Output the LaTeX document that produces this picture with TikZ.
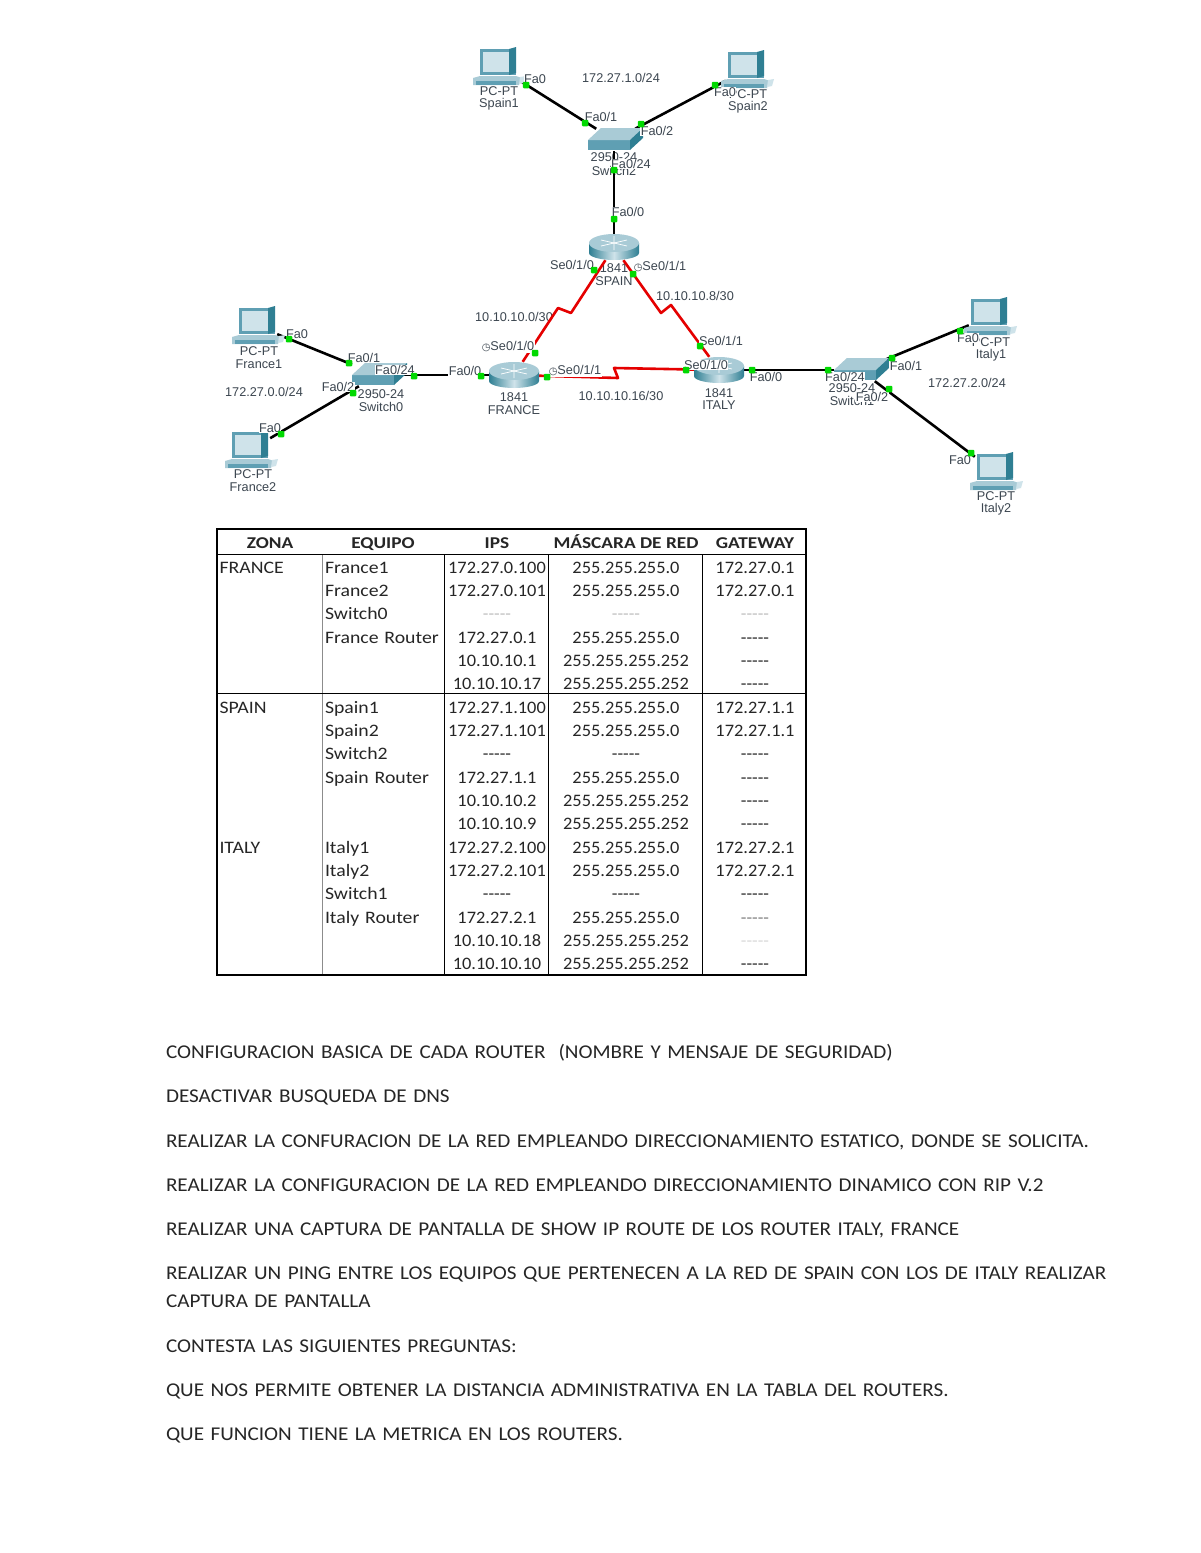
\documentclass[tikz,border=0pt]{standalone}
\usepackage{fontspec}
\setmainfont{Carlito}
\newfontfamily\netfont{Liberation Sans}
\newfontfamily\clockfont{DejaVu Sans}
\newfontfamily\numfont[FakeStretch=1.05]{Carlito}
\newfontfamily\namefont[FakeStretch=1.13]{Carlito}
\newfontfamily\headfont[FakeStretch=1.17]{Carlito}
\newfontfamily\bodyfont[FakeStretch=1.085,WordSpace=0.8]{Carlito}
\usepackage{xcolor}
\usetikzlibrary{positioning}

\definecolor{teallight}{HTML}{A9CBD6}
\definecolor{tealmid}{HTML}{5F9FB3}
\definecolor{tealdark}{HTML}{2F7F93}
\definecolor{screenblue}{HTML}{CFE3EA}
\definecolor{netgrey}{HTML}{3C4650}
\newcommand{\clockmark}{{\clockfont\fontsize{10}{10}\selectfont ◷}}
\newcommand{\nodash}{-{}-{}-{}-{}-}

\begin{document}
\begin{tikzpicture}[
    x=1pt, y=-1pt, on grid,
    pcbox/.style={rectangle, minimum width=40pt, minimum height=36pt, inner sep=0pt},
    swbox/.style={rectangle, minimum width=52pt, minimum height=22pt, inner sep=0pt},
    rtbox/.style={rectangle, minimum width=50pt, minimum height=26pt, inner sep=0pt},
    lan/.style={line width=2.6pt, black},
    serial/.style={line width=2.6pt, red!90!black, line join=round},
    portmark/.style={rectangle, fill=green!85!black, rounded corners=1pt, minimum size=6.5pt, inner sep=0pt},
    devlabel/.style={font=\netfont\fontsize{12.7}{13}\selectfont, text=netgrey, inner sep=0pt},
    portlabel/.style={devlabel, fill=white, inner sep=0.5pt},
    cell/.style={font=\numfont\fontsize{17.5}{18}\selectfont, text=black!85, inner sep=0pt, text height=14pt, text depth=2pt},
    headcell/.style={cell, font=\headfont\fontsize{16.5}{18}\selectfont\bfseries},
    leftcell/.style={cell, font=\namefont\fontsize{17.5}{18}\selectfont, align=left},
    faint/.style={cell, text=black!25},
    bodyline/.style={font=\bodyfont\fontsize{19.5}{20}\selectfont, text=black!85, inner sep=0pt, text width=960pt, align=left, text height=15pt, text depth=2pt},
    pcicon/.pic={
        \fill[teallight] (-25,11) -- (-18,9) -- (18,9) -- (24,11) -- (21,18) -- (-25,18) -- cycle;
        \fill[tealmid] (-18,-18) rectangle (18,8);
        \fill[tealdark] (11,-18) -- (18,-20) -- (18,6) -- (11,8) -- cycle;
        \fill[screenblue] (-15,-15) rectangle (11,5);
        \fill[tealmid] (-22,14) rectangle (18,18);
        \fill[screenblue] (22,10) -- (28,9) -- (26,16) -- (21,17) -- cycle;
    },
    swicon/.pic={
        \fill[tealmid] (-26,0) rectangle (16,10);
        \fill[teallight] (-26,0) -- (-13,-12) -- (29,-12) -- (16,0) -- cycle;
        \fill[tealdark] (16,0) -- (29,-12) -- (29,-2) -- (16,10) -- cycle;
    },
    rticon/.pic={
        \shade[left color=tealdark, right color=tealdark, middle color=screenblue] (-25,-4) -- (-25,6) arc[start angle=180, end angle=360, x radius=25, y radius=-7] -- (25,-4) -- cycle;
        \fill[teallight] (0,-4) ellipse[x radius=25, y radius=9];
        \draw[white, line width=0.7pt] (-13,-7) -- (13,-1) (-13,-1) -- (13,-7) (0,-11) -- (0,3);
    }
]
\useasboundingbox (0,0) rectangle (1200,1553);
\fill[white] (0,0) rectangle (1200,1553);

% Routers
\node[rtbox] (spainr) at (614,247) {};
\node[rtbox, below left=128pt and 100pt of spainr] (francer) {};
\node[rtbox, below right=123pt and 105pt of spainr] (italyr) {};

% Switches
\node[swbox, above=107pt of spainr] (switchs) {};
\node[swbox, left=136pt of francer] (switchf) {};
\node[swbox, right=141pt of italyr] (switchi) {};

% PCs
\node[pcbox, above left=73pt and 116pt of switchs] (spain1) {};
\node[pcbox, above right=70pt and 132pt of switchs] (spain2) {};
\node[pcbox, above left=49pt and 121pt of switchf] (france1) {};
\node[pcbox, below left=75pt and 128pt of switchf] (france2) {};
\node[pcbox, above right=53pt and 129pt of switchi] (italy1) {};
\node[pcbox, below right=102pt and 135pt of switchi] (italy2) {};

% Device labels
\node[devlabel, below right=24pt and 1pt of spain1] (spain1type) {PC-PT};
\node[devlabel, below=13pt of spain1type] (spain1name) {Spain1};
\node[devlabel, below right=24pt and 2pt of spain2] (spain2type) {PC-PT};
\node[devlabel, below=13pt of spain2type] (spain2name) {Spain2};
\node[devlabel, below right=25pt and 2pt of france1] (france1type) {PC-PT};
\node[devlabel, below=13pt of france1type] (france1name) {France1};
\node[devlabel, below right=24pt and 3pt of france2] (france2type) {PC-PT};
\node[devlabel, below=13pt of france2type] (france2name) {France2};
\node[devlabel, below right=25pt and 2pt of italy1] (italy1type) {PC-PT};
\node[devlabel, below=13pt of italy1type] (italy1name) {Italy1};
\node[devlabel, below right=24pt and 1pt of italy2] (italy2type) {PC-PT};
\node[devlabel, below=13pt of italy2type] (italy2name) {Italy2};

\node[devlabel, below=17pt of switchs] (switchsmodel) {2950-24};
\node[devlabel, below=14pt of switchsmodel] (switchsname) {Switch2};
\node[devlabel, below right=19pt and 3pt of switchf] (switchfmodel) {2950-24};
\node[devlabel, below=13pt of switchfmodel] (switchfname) {Switch0};
\node[devlabel, below left=18pt and 8pt of switchi] (switchimodel) {2950-24};
\node[devlabel, below=13pt of switchimodel] (switchiname) {Switch1};

\node[devlabel, below=21pt of spainr] (spainrmodel) {1841};
\node[devlabel, below=13pt of spainrmodel] (spainrname) {SPAIN};
\node[devlabel, below=22pt of francer] (francermodel) {1841};
\node[devlabel, below=13pt of francermodel] (francername) {FRANCE};
\node[devlabel, below=23pt of italyr] (italyrmodel) {1841};
\node[devlabel, below=12pt of italyrmodel] (italyrname) {ITALY};

% Network labels
\node[devlabel] (netspain) at (621,78) {172.27.1.0/24};
\node[devlabel] (netfrance) at (264,392) {172.27.0.0/24};
\node[devlabel] (netitaly) at (967,383) {172.27.2.0/24};
\node[devlabel] (netsf) at (514,317) {10.10.10.0/30};
\node[devlabel] (netsi) at (695,296) {10.10.10.8/30};
\node[devlabel] (netfi) at (621,396) {10.10.10.16/30};

% LAN links
\draw[lan] (spain1) -- (switchs);
\draw[lan] (spain2) -- (switchs);
\draw[lan] (switchs) -- (spainr);
\draw[lan] (france1) -- (switchf);
\draw[lan] (france2) -- (switchf);
\draw[lan] (switchf) -- (francer);
\draw[lan] (italy1) -- (switchi);
\draw[lan] (italy2) -- (switchi);
\draw[lan] (switchi) -- (italyr);

% Serial links
\coordinate (sfa) at (571,313);
\coordinate (sfb) at (558,308);
\coordinate (sia) at (661,313);
\coordinate (sib) at (671,305);
\coordinate (fia) at (618,378);
\coordinate (fib) at (614,368);
\draw[serial] (spainr) -- (sfa) -- (sfb) -- (francer);
\draw[serial] (spainr) -- (sia) -- (sib) -- (italyr);
\draw[serial] (francer) -- (fia) -- (fib) -- (italyr);

% Icons
\pic at (spainr) {rticon};
\pic at (francer) {rticon};
\pic at (italyr) {rticon};
\pic at (switchs) {swicon};
\pic at (switchf) {swicon};
\pic at (switchi) {swicon};
\pic at (spain1) {pcicon};
\pic at (spain2) {pcicon};
\pic at (france1) {pcicon};
\pic at (france2) {pcicon};
\pic at (italy1) {pcicon};
\pic at (italy2) {pcicon};

% Port labels
\node[portlabel] (ps1) at (535,79) {Fa0};
\node[portlabel] (ps2) at (725,92) {Fa0};
\node[portlabel] (sw1) at (601,117) {Fa0/1};
\node[portlabel] (sw2) at (657,131) {Fa0/2};
\node[portlabel] (sw3) at (631,164) {Fa0/24};
\node[portlabel] (sr0) at (628,212) {Fa0/0};
\node[portlabel] (sr1) at (572,265) {Se0/1/0};
\node[portlabel] (sr2) at (660,267) {\clockmark Se0/1/1};
\node[portlabel] (fr1) at (508,347) {\clockmark Se0/1/0};
\node[portlabel] (fr2) at (575,371) {\clockmark Se0/1/1};
\node[portlabel] (fr0) at (465,371) {Fa0/0};
\node[portlabel] (fw3) at (395,370) {Fa0/24};
\node[portlabel] (fw1) at (364,358) {Fa0/1};
\node[portlabel] (fw2) at (338,387) {Fa0/2};
\node[portlabel] (pf1) at (297,334) {Fa0};
\node[portlabel] (pf2) at (270,428) {Fa0};
\node[portlabel] (ir1) at (721,341) {Se0/1/1};
\node[portlabel] (ir2) at (706,365) {Se0/1/0};
\node[portlabel] (ir0) at (766,377) {Fa0/0};
\node[portlabel] (iw3) at (845,377) {Fa0/24};
\node[portlabel] (iw2) at (872,397) {Fa0/2};
\node[portlabel] (iw1) at (906,366) {Fa0/1};
\node[portlabel] (pi1) at (968,338) {Fa0};
\node[portlabel] (pi2) at (960,460) {Fa0};

% Port markers
\node[portmark] (m1) at (526,85) {};
\node[portmark] (m2) at (585,123) {};
\node[portmark] (m3) at (715,85) {};
\node[portmark] (m4) at (641,124) {};
\node[portmark] (m5) at (614,170) {};
\node[portmark] (m6) at (614,219) {};
\node[portmark] (m7) at (594,270) {};
\node[portmark] (m8) at (633,274) {};
\node[portmark] (m9) at (535,353) {};
\node[portmark] (m10) at (700,346) {};
\node[portmark] (m11) at (547,377) {};
\node[portmark] (m12) at (686,370) {};
\node[portmark] (m13) at (481,376) {};
\node[portmark] (m14) at (414,376) {};
\node[portmark] (m15) at (349,363) {};
\node[portmark] (m16) at (353,393) {};
\node[portmark] (m17) at (289,339) {};
\node[portmark] (m18) at (281,434) {};
\node[portmark] (m19) at (752,370) {};
\node[portmark] (m20) at (828,370) {};
\node[portmark] (m21) at (892,358) {};
\node[portmark] (m22) at (889,389) {};
\node[portmark] (m23) at (960,331) {};
\node[portmark] (m24) at (971,453) {};

% Table grid
\draw[black!45, thin] (322,554) -- (322,975);
\draw[black, line width=1pt] (444,554) -- (444,975);
\draw[black, line width=1pt] (548,554) -- (548,975);
\draw[black, line width=1pt] (702,554) -- (702,975);
\draw[black, line width=1pt] (217,554) -- (806,554);
\draw[black, line width=1pt] (217,693) -- (806,693);
\draw[black, line width=1.6pt] (217,529) rectangle (806,975);

% Table header
\node[headcell] (hzona) at (270,542) {ZONA};
\node[headcell, right=113pt of hzona] (hequipo) {EQUIPO};
\node[headcell, right=114pt of hequipo] (hips) {IPS};
\node[headcell, right=129pt of hips] (hmask) {MÁSCARA DE RED};
\node[headcell, right=129pt of hmask] (hgate) {GATEWAY};

% France rows
\node[cell, below=25pt of hips] (ip1) {172.27.0.100};
\node[cell, right=129pt of ip1] (mask1) {255.255.255.0};
\node[cell, right=129pt of mask1] (gate1) {172.27.0.1};
\node[leftcell, text width=115pt, left=114.5pt of ip1] (dev1) {France1};
\node[leftcell, text width=100pt, left=113pt of dev1] (zone1) {FRANCE};

\node[cell, below=23.35pt of ip1] (ip2) {172.27.0.101};
\node[cell, right=129pt of ip2] (mask2) {255.255.255.0};
\node[cell, right=129pt of mask2] (gate2) {172.27.0.1};
\node[leftcell, text width=115pt, left=114.5pt of ip2] (dev2) {France2};

\node[faint, below=23.35pt of ip2] (ip3) {\nodash};
\node[faint, right=129pt of ip3] (mask3) {\nodash};
\node[faint, right=129pt of mask3] (gate3) {\nodash};
\node[leftcell, text width=115pt, left=114.5pt of ip3] (dev3) {Switch0};

\node[cell, below=23.35pt of ip3] (ip4) {172.27.0.1};
\node[cell, right=129pt of ip4] (mask4) {255.255.255.0};
\node[cell, right=129pt of mask4] (gate4) {\nodash};
\node[leftcell, text width=115pt, left=114.5pt of ip4] (dev4) {France Router};

\node[cell, below=23.35pt of ip4] (ip5) {10.10.10.1};
\node[cell, right=129pt of ip5] (mask5) {255.255.255.252};
\node[cell, right=129pt of mask5] (gate5) {\nodash};

\node[cell, below=23.35pt of ip5] (ip6) {10.10.10.17};
\node[cell, right=129pt of ip6] (mask6) {255.255.255.252};
\node[cell, right=129pt of mask6] (gate6) {\nodash};

% Spain rows
\node[cell, below=23.35pt of ip6] (ip7) {172.27.1.100};
\node[cell, right=129pt of ip7] (mask7) {255.255.255.0};
\node[cell, right=129pt of mask7] (gate7) {172.27.1.1};
\node[leftcell, text width=115pt, left=114.5pt of ip7] (dev7) {Spain1};
\node[leftcell, text width=100pt, left=113pt of dev7] (zone7) {SPAIN};

\node[cell, below=23.35pt of ip7] (ip8) {172.27.1.101};
\node[cell, right=129pt of ip8] (mask8) {255.255.255.0};
\node[cell, right=129pt of mask8] (gate8) {172.27.1.1};
\node[leftcell, text width=115pt, left=114.5pt of ip8] (dev8) {Spain2};

\node[cell, below=23.35pt of ip8] (ip9) {\nodash};
\node[cell, right=129pt of ip9] (mask9) {\nodash};
\node[cell, right=129pt of mask9] (gate9) {\nodash};
\node[leftcell, text width=115pt, left=114.5pt of ip9] (dev9) {Switch2};

\node[cell, below=23.35pt of ip9] (ip10) {172.27.1.1};
\node[cell, right=129pt of ip10] (mask10) {255.255.255.0};
\node[cell, right=129pt of mask10] (gate10) {\nodash};
\node[leftcell, text width=115pt, left=114.5pt of ip10] (dev10) {Spain Router};

\node[cell, below=23.35pt of ip10] (ip11) {10.10.10.2};
\node[cell, right=129pt of ip11] (mask11) {255.255.255.252};
\node[cell, right=129pt of mask11] (gate11) {\nodash};

\node[cell, below=23.35pt of ip11] (ip12) {10.10.10.9};
\node[cell, right=129pt of ip12] (mask12) {255.255.255.252};
\node[cell, right=129pt of mask12] (gate12) {\nodash};

% Italy rows
\node[cell, below=23.35pt of ip12] (ip13) {172.27.2.100};
\node[cell, right=129pt of ip13] (mask13) {255.255.255.0};
\node[cell, right=129pt of mask13] (gate13) {172.27.2.1};
\node[leftcell, text width=115pt, left=114.5pt of ip13] (dev13) {Italy1};
\node[leftcell, text width=100pt, left=113pt of dev13] (zone13) {ITALY};

\node[cell, below=23.35pt of ip13] (ip14) {172.27.2.101};
\node[cell, right=129pt of ip14] (mask14) {255.255.255.0};
\node[cell, right=129pt of mask14] (gate14) {172.27.2.1};
\node[leftcell, text width=115pt, left=114.5pt of ip14] (dev14) {Italy2};

\node[cell, below=23.35pt of ip14] (ip15) {\nodash};
\node[cell, right=129pt of ip15] (mask15) {\nodash};
\node[cell, right=129pt of mask15] (gate15) {\nodash};
\node[leftcell, text width=115pt, left=114.5pt of ip15] (dev15) {Switch1};

\node[cell, below=23.35pt of ip15] (ip16) {172.27.2.1};
\node[cell, right=129pt of ip16] (mask16) {255.255.255.0};
\node[faint, text=black!50, right=129pt of mask16] (gate16) {\nodash};
\node[leftcell, text width=115pt, left=114.5pt of ip16] (dev16) {Italy Router};

\node[cell, below=23.35pt of ip16] (ip17) {10.10.10.18};
\node[cell, right=129pt of ip17] (mask17) {255.255.255.252};
\node[faint, text=black!15, right=129pt of mask17] (gate17) {\nodash};

\node[cell, below=23.35pt of ip17] (ip18) {10.10.10.10};
\node[cell, right=129pt of ip18] (mask18) {255.255.255.252};
\node[cell, right=129pt of mask18] (gate18) {\nodash};

% Instructions
\node[bodyline] (line1) at (646,1052) {CONFIGURACION BASICA DE CADA ROUTER ~(NOMBRE Y MENSAJE DE SEGURIDAD)};
\node[bodyline, below=44pt of line1] (line2) {DESACTIVAR BUSQUEDA DE DNS};
\node[bodyline, below=45pt of line2] (line3) {REALIZAR LA CONFURACION DE LA RED EMPLEANDO DIRECCIONAMIENTO ESTATICO, DONDE SE SOLICITA.};
\node[bodyline, below=44pt of line3] (line4) {REALIZAR LA CONFIGURACION DE LA RED EMPLEANDO DIRECCIONAMIENTO DINAMICO CON RIP V.2};
\node[bodyline, below=44pt of line4] (line5) {REALIZAR UNA CAPTURA DE PANTALLA DE SHOW IP ROUTE DE LOS ROUTER ITALY, FRANCE};
\node[bodyline, below=44pt of line5] (line6) {REALIZAR UN PING ENTRE LOS EQUIPOS QUE PERTENECEN A LA RED DE SPAIN CON LOS DE ITALY REALIZAR};
\node[bodyline, below=28pt of line6] (line7) {CAPTURA DE PANTALLA};
\node[bodyline, below=45pt of line7] (line8) {CONTESTA LAS SIGUIENTES PREGUNTAS:};
\node[bodyline, below=44pt of line8] (line9) {QUE NOS PERMITE OBTENER LA DISTANCIA ADMINISTRATIVA EN LA TABLA DEL ROUTERS.};
\node[bodyline, below=44pt of line9] (line10) {QUE FUNCION TIENE LA METRICA EN LOS ROUTERS.};

\end{tikzpicture}
\end{document}
